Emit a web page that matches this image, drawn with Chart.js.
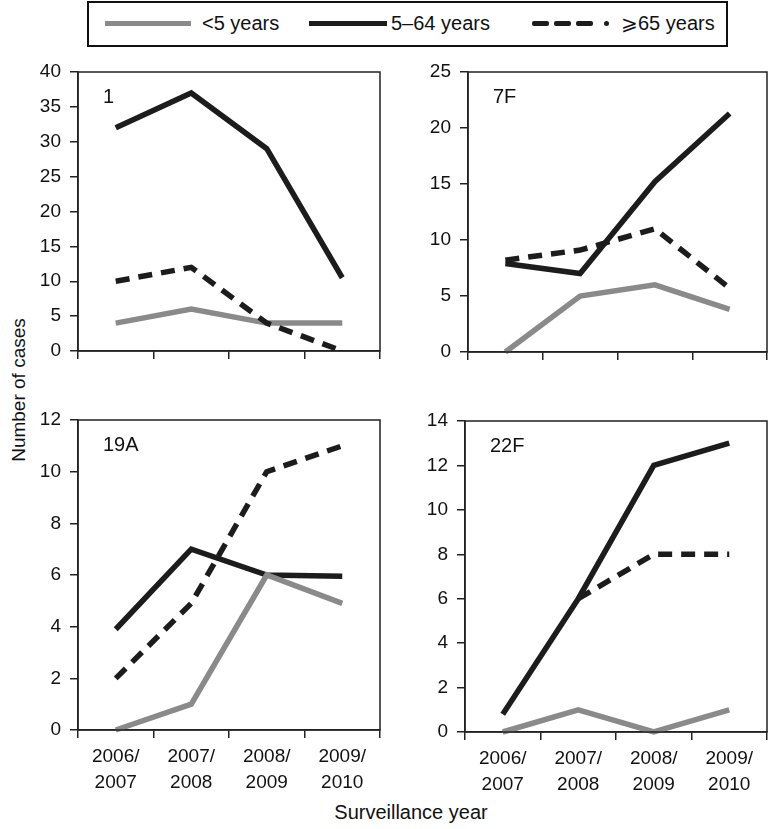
<!DOCTYPE html>
<html>
<head>
<meta charset="utf-8">
<script src="https://cdn.jsdelivr.net/npm/chart.js@4.4.1/dist/chart.umd.min.js"></script>
<style>
  body { margin: 0; background: #fff; width: 769px; height: 829px; overflow: hidden; position: relative;
         font-family: "Liberation Sans", Arial, sans-serif; color: #111; }
  canvas { position: absolute; }
  #legend { position: absolute; left: 87px; top: 1px; width: 637px; height: 42px; border: 2px solid #111; }
  .sw { position: absolute; top: 18px; height: 5px; }
  .lt { position: absolute; top: 8px; font-size: 20px; line-height: 24px; white-space: nowrap; }
  #ytitle { position: absolute; left: 19px; top: 390px; font-size: 19px; transform: translate(-50%, -50%) rotate(-90deg); white-space: nowrap; }
  #xtitle { position: absolute; left: 411px; top: 812px; font-size: 20px; transform: translate(-50%, -50%); white-space: nowrap; }
</style>
</head>
<body>
<div id="legend">
  <div class="sw" style="left:16px;width:86px;background:#8a8a8a"></div>
  <div class="lt" style="left:113px">&lt;5 years</div>
  <div class="sw" style="left:220px;width:78px;background:#1c1c1c"></div>
  <div class="lt" style="left:302px">5–64 years</div>
  <div class="sw" style="left:443px;width:17px;background:#1c1c1c;border-radius:2px"></div>
  <div class="sw" style="left:465px;width:17px;background:#1c1c1c;border-radius:2px"></div>
  <div class="sw" style="left:487px;width:17px;background:#1c1c1c;border-radius:2px"></div>
  <div class="sw" style="left:515px;width:5px;background:#1c1c1c;border-radius:3px"></div>
  <div class="lt" style="left:532px">⩾65 years</div>
</div>
<div id="ytitle">Number of cases</div>
<div id="xtitle">Surveillance year</div>

<canvas id="p1" width="345" height="300" style="left:40px;top:62px"></canvas>
<canvas id="p2" width="339" height="301" style="left:430px;top:62px"></canvas>
<canvas id="p3" width="345" height="386" style="left:40px;top:410px"></canvas>
<canvas id="p4" width="342" height="387" style="left:427px;top:411px"></canvas>

<script>
// Data
const years = [['2006/', '2007'], ['2007/', '2008'], ['2008/', '2009'], ['2009/', '2010']];
const seriesNames = ['<5 years', '5–64 years', '⩾65 years'];

const sero1Under5 = [4, 6, 4, 4];
const sero1Adult = [32, 37, 29, 10.5];
const sero1Elderly = [10, 12, 4, 0];

const sero7FUnder5 = [0, 5, 6, 3.8];
const sero7FAdult = [7.9, 7, 15.2, 21.3];
const sero7FElderly = [8.2, 9.1, 11, 5.7];

const sero19AUnder5 = [0, 1, 6, 4.9];
const sero19AAdult = [3.9, 7, 6, 5.95];
const sero19AElderly = [2, 4.9, 10, 11];

const sero22FUnder5 = [0, 1, 0, 1];
const sero22FAdult = [0.8, 6, 12, 13];
const sero22FElderly = [null, 6, 8, 8];

const yMax = [40, 25, 12, 14];
const yStep = [5, 5, 2, 2];

const grey = '#8a8a8a';
const black = '#1c1c1c';
const family = '"Liberation Sans", Arial, sans-serif';
const font = { family: family, size: 19, lineHeight: 1.35 };

// box round the plot area + serotype label
const frame = {
    id: 'frame',
    afterDraw(chart, args, opts) {
        const a = chart.chartArea, ctx = chart.ctx;
        ctx.save();
        ctx.strokeStyle = '#222';
        ctx.lineWidth = 1.5;
        ctx.strokeRect(a.left, a.top, a.right - a.left, a.bottom - a.top);
        ctx.fillStyle = '#111';
        ctx.font = '20px ' + family;
        ctx.textBaseline = 'middle';
        ctx.fillText(opts.title, a.left + 25, a.top + 25);
        ctx.restore();
    }
};

function makePanel(id, title, under5, adult, elderly, max, step, showX, padRight) {
    new Chart(document.getElementById(id), {
        type: 'line',
        data: {
            labels: years,
            datasets: [
                { label: seriesNames[2], data: elderly, borderColor: black, borderDash: [14, 9] },
                { label: seriesNames[0], data: under5, borderColor: grey },
                { label: seriesNames[1], data: adult, borderColor: black }
            ]
        },
        options: {
            responsive: false,
            animation: false,
            layout: { padding: { top: 10, right: padRight, left: 0, bottom: 0 } },
            elements: {
                line: { borderWidth: 5.5, tension: 0, borderCapStyle: 'butt', borderJoinStyle: 'miter' },
                point: { radius: 0 }
            },
            datasets: { line: { clip: false, spanGaps: false } },
            plugins: { legend: { display: false }, tooltip: { enabled: false }, frame: { title: title } },
            scales: {
                x: {
                    offset: true,
                    grid: { offset: true, drawOnChartArea: false, tickLength: 8, color: '#222', lineWidth: 1.5 },
                    border: { color: '#222', width: 1.5 },
                    ticks: { display: showX, color: '#111', font: font, padding: 6, maxRotation: 0 },
                    afterFit(s) {
                        s.height = showX ? 66 : 11;
                        s.paddingLeft = 0; s.paddingRight = 0;
                    }
                },
                y: {
                    min: 0, max: max,
                    grid: { drawOnChartArea: false, tickLength: 8, color: '#222', lineWidth: 1.5 },
                    border: { color: '#222', width: 1.5 },
                    ticks: { stepSize: step, color: '#111', font: font, padding: 9 },
                    afterFit(s) {
                        s.width = 38;
                        s.paddingTop = 0; s.paddingBottom = 0;
                    }
                }
            }
        },
        plugins: [frame]
    });
}

makePanel('p1', '1', sero1Under5, sero1Adult, sero1Elderly, yMax[0], yStep[0], false, 5);
makePanel('p2', '7F', sero7FUnder5, sero7FAdult, sero7FElderly, yMax[1], yStep[1], false, 2);
makePanel('p3', '19A', sero19AUnder5, sero19AAdult, sero19AElderly, yMax[2], yStep[2], true, 5);
makePanel('p4', '22F', sero22FUnder5, sero22FAdult, sero22FElderly, yMax[3], yStep[3], true, 2);
</script>
</body>
</html>
